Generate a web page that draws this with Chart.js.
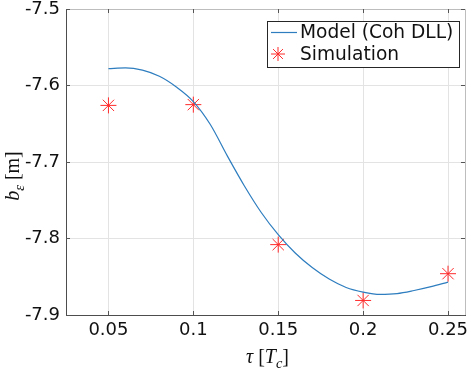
<!DOCTYPE html>
<html>
<head>
<meta charset="utf-8">
<script src="https://cdn.jsdelivr.net/npm/chart.js@4"></script>
<style>
  html, body { margin: 0; padding: 0; background: #fff; }
  #wrap { width: 474px; height: 369px; }
</style>
</head>
<body>
<div id="wrap"><canvas id="bChart" width="474" height="369"></canvas></div>
<script>
// model curve (Coh DLL), tau in Tc
const modelTau = [0.05, 0.06, 0.07, 0.08, 0.09, 0.10, 0.11, 0.12, 0.13, 0.14, 0.15,
                  0.16, 0.17, 0.18, 0.19, 0.20, 0.21, 0.22, 0.23, 0.24, 0.25];
const modelB = [-7.578, -7.577, -7.580, -7.588, -7.602, -7.621, -7.651, -7.692, -7.731, -7.766, -7.795,
                -7.819, -7.838, -7.853, -7.864, -7.870, -7.873, -7.872, -7.868, -7.863, -7.857];
// simulation points
const simTau = [0.05, 0.10, 0.15, 0.20, 0.25];
const simB = [-7.626, -7.625, -7.808, -7.881, -7.846];

const xTicks = [0.05, 0.1, 0.15, 0.2, 0.25];
const yTicks = [-7.9, -7.8, -7.7, -7.6, -7.5];

const labelFont = '"DejaVu Sans", sans-serif';
const lineColor = '#2d7dbf';
const starColor = '#ff2a2a';

// draws text made of pieces: [text, italic, sub]
function drawRich(ctx, parts, x, y, size) {
    let w = 0;
    const fontOf = p => (p[1] ? 'italic ' : '') + (p[2] ? size * 0.72 : size) + 'px "Liberation Serif", serif';
    parts.forEach(p => { ctx.font = fontOf(p); w += ctx.measureText(p[0]).width; });
    let cx = x - w / 2;
    parts.forEach(p => {
        ctx.font = fontOf(p);
        ctx.fillText(p[0], cx, p[2] ? y + size * 0.25 : y);
        cx += ctx.measureText(p[0]).width;
    });
}

const decor = {
    id: 'decor',
    afterDraw(chart) {
        const ctx = chart.ctx;
        const a = chart.chartArea;
        const xs = chart.scales.x, ys = chart.scales.y;
        ctx.save();
        // box + inward ticks
        ctx.strokeStyle = '#bdbdbd';
        ctx.lineWidth = 1;
        ctx.beginPath();
        ctx.moveTo(a.left, a.top + 0.5); ctx.lineTo(a.right + 0.5, a.top + 0.5);
        ctx.lineTo(a.right + 0.5, a.bottom);
        ctx.stroke();
        ctx.strokeStyle = '#555';
        ctx.beginPath();
        xTicks.forEach(v => {
            const px = Math.round(xs.getPixelForValue(v)) + 0.5;
            ctx.moveTo(px, a.bottom); ctx.lineTo(px, a.bottom - 4);
            ctx.moveTo(px, a.top); ctx.lineTo(px, a.top + 4);
        });
        yTicks.forEach(v => {
            const py = Math.round(ys.getPixelForValue(v)) + 0.5;
            ctx.moveTo(a.left, py); ctx.lineTo(a.left + 4, py);
            ctx.moveTo(a.right, py); ctx.lineTo(a.right - 4, py);
        });
        ctx.stroke();

        // legend
        const lx = 267, ly = 21, lw = 192, lh = 46;
        ctx.fillStyle = '#fff';
        ctx.fillRect(lx, ly, lw, lh);
        ctx.strokeStyle = '#262626';
        ctx.strokeRect(lx + 0.5, ly + 0.5, lw, lh);
        ctx.strokeStyle = lineColor;
        ctx.lineWidth = 1.2;
        ctx.beginPath();
        ctx.moveTo(271, 32.5); ctx.lineTo(297, 32.5);
        ctx.stroke();
        ctx.strokeStyle = starColor;
        ctx.lineWidth = 1;
        ctx.beginPath();
        for (let k = 0; k < 4; k++) {
            const t = k * Math.PI / 4, r = 7;
            ctx.moveTo(278 - r * Math.cos(t), 54 - r * Math.sin(t));
            ctx.lineTo(278 + r * Math.cos(t), 54 + r * Math.sin(t));
        }
        ctx.stroke();
        ctx.fillStyle = '#111';
        ctx.font = '18.6px ' + labelFont;
        ctx.textBaseline = 'middle';
        ctx.textAlign = 'left';
        ctx.fillText(chart.data.datasets[0].label, 300, 33);
        ctx.fillText(chart.data.datasets[1].label, 300, 55);

        // axis titles
        ctx.fillStyle = '#111';
        ctx.textBaseline = 'alphabetic';
        drawRich(ctx, [['τ', true, false], [' [', false, false], ['T', true, false], ['c', true, true], [']', false, false]],
            (a.left + a.right) / 2 + 2, 363, 20);
        ctx.translate(19, 176);
        ctx.rotate(-Math.PI / 2);
        drawRich(ctx, [['b', true, false], ['ε', true, true], [' [m]', false, false]], 0, 0, 20);
        ctx.restore();
    }
};

new Chart(document.getElementById('bChart'), {
    type: 'scatter',
    data: {
        datasets: [{
            label: 'Model (Coh DLL)',
            type: 'line',
            data: modelTau.map((t, i) => ({ x: t, y: modelB[i] })),
            borderColor: lineColor,
            borderWidth: 1.2,
            pointRadius: 0,
            cubicInterpolationMode: 'monotone',
            fill: false
        }, {
            label: 'Simulation',
            data: simTau.map((t, i) => ({ x: t, y: simB[i] })),
            pointStyle: 'star',
            pointRadius: 8,
            borderColor: starColor,
            backgroundColor: starColor,
            borderWidth: 1
        }]
    },
    options: {
        responsive: false,
        animation: false,
        layout: { padding: { top: 7, right: 5, left: 0, bottom: 0 } },
        plugins: { legend: { display: false }, tooltip: { enabled: false } },
        scales: {
            x: {
                type: 'linear', min: 0.025, max: 0.26,
                afterBuildTicks: s => { s.ticks = xTicks.map(v => ({ value: v })); },
                afterFit: s => { s.height = 54; s.paddingLeft = 0; s.paddingRight = 0; },
                grid: { color: '#e3e3e3', drawTicks: false },
                border: { color: '#4d4d4d' },
                ticks: { padding: 5, color: '#111', font: { family: labelFont, size: 18 }, callback: v => String(v), maxRotation: 0 }
            },
            y: {
                min: -7.9, max: -7.5,
                afterBuildTicks: s => { s.ticks = yTicks.map(v => ({ value: v })); },
                afterFit: s => { s.width = 66; s.paddingTop = 0; s.paddingBottom = 0; },
                grid: { color: '#e3e3e3', drawTicks: false },
                border: { color: '#4d4d4d' },
                ticks: { padding: 6, color: '#111', font: { family: labelFont, size: 18 }, callback: v => String(v) }
            }
        }
    },
    plugins: [decor]
});
</script>
</body>
</html>
